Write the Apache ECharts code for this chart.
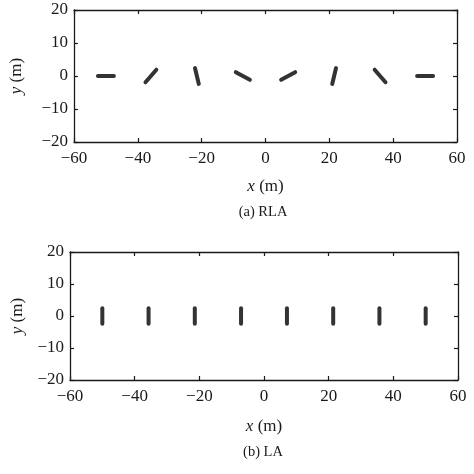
<!DOCTYPE html>
<html>
<head>
<meta charset="utf-8">
<script src="https://cdn.jsdelivr.net/npm/echarts@6/dist/echarts.min.js"></script>
<style>html,body{margin:0;padding:0;background:#fff}#c{width:474px;height:474px}</style>
</head>
<body>
<div id="c"></div>
<script>
// Axis ticks
const xTicks = [-60, -40, -20, 0, 20, 40, 60];
const yTicks = [-20, -10, 0, 10, 20];

// (a) RLA: element segments (start and end points, metres)
const rlaStartX = [-52.5, -37.6, -22.1, -9.3, 4.9, 20.9, 34.2, 47.5];
const rlaStartY = [0, -1.9, 2.4, 1.15, -1.15, -2.4, 1.9, 0];
const rlaEndX   = [-47.5, -34.2, -20.9, -4.9, 9.3, 22.1, 37.6, 52.5];
const rlaEndY   = [0, 1.9, -2.4, -1.15, 1.15, 2.4, -1.9, 0];

// (b) LA: vertical element segments
const laX      = [-50, -35.7, -21.4, -7.1, 7.1, 21.4, 35.7, 50];
const laStartY = [-2.45, -2.45, -2.45, -2.45, -2.45, -2.45, -2.45, -2.45];
const laEndY   = [2.45, 2.45, 2.45, 2.45, 2.45, 2.45, 2.45, 2.45];

const FONT = 'Liberation Serif';
const INK = '#1a1a1a';
const MARK = '#333';

function fmt(v) { return v < 0 ? '\u2212' + Math.abs(v) : String(v); }

function xAxes(grid, gap) {
  const base = {
    gridIndex: grid, type: 'value', min: xTicks[0], max: xTicks[xTicks.length - 1],
    interval: xTicks[1] - xTicks[0],
    axisLine: { show: true, onZero: false, lineStyle: { color: INK, width: 1.3 } },
    axisTick: { show: true, inside: true, length: 4, lineStyle: { color: INK, width: 1.2 } },
    splitLine: { show: false }
  };
  return [
    Object.assign({}, base, {
      position: 'bottom',
      axisLabel: { margin: 8, fontSize: 17, fontFamily: FONT, color: INK, formatter: fmt },
      name: '{i|x} (m)', nameLocation: 'middle', nameGap: gap,
      nameTextStyle: { fontSize: 17, fontFamily: FONT, color: INK,
        rich: { i: { fontStyle: 'italic', fontSize: 17, fontFamily: FONT, color: INK } } }
    }),
    Object.assign({}, base, { position: 'top', axisLabel: { show: false } })
  ];
}
function yAxes(grid, gap) {
  const base = {
    gridIndex: grid, type: 'value', min: yTicks[0], max: yTicks[yTicks.length - 1],
    interval: yTicks[1] - yTicks[0],
    axisLine: { show: true, onZero: false, lineStyle: { color: INK, width: 1.3 } },
    axisTick: { show: true, inside: true, length: 4, lineStyle: { color: INK, width: 1.2 } },
    splitLine: { show: false }
  };
  return [
    Object.assign({}, base, {
      position: 'left',
      axisLabel: { margin: 6, fontSize: 17, fontFamily: FONT, color: INK, formatter: fmt },
      name: '{i|y} (m)', nameLocation: 'middle', nameGap: gap, nameRotate: 90,
      nameTextStyle: { fontSize: 17, fontFamily: FONT, color: INK,
        rich: { i: { fontStyle: 'italic', fontSize: 17, fontFamily: FONT, color: INK } } }
    }),
    Object.assign({}, base, { position: 'right', axisLabel: { show: false } })
  ];
}

const series = [];
for (let i = 0; i < rlaStartX.length; i++) {
  series.push({
    type: 'line', xAxisIndex: 0, yAxisIndex: 0, symbol: 'none', silent: true,
    data: [[rlaStartX[i], rlaStartY[i]], [rlaEndX[i], rlaEndY[i]]],
    lineStyle: { color: MARK, width: 4, cap: 'round' }
  });
}
for (let i = 0; i < laX.length; i++) {
  series.push({
    type: 'line', xAxisIndex: 2, yAxisIndex: 2, symbol: 'none', silent: true,
    data: [[laX[i], laStartY[i]], [laX[i], laEndY[i]]],
    lineStyle: { color: MARK, width: 4, cap: 'round' }
  });
}

const chart = echarts.init(document.getElementById('c'), null, { renderer: 'canvas' });
chart.setOption({
  animation: false,
  backgroundColor: '#fff',
  grid: [
    { left: 74, right: 17, top: 10, height: 132 },
    { left: 70, right: 16, top: 252, height: 128 }
  ],
  xAxis: xAxes(0, 36).concat(xAxes(1, 38)),
  yAxis: yAxes(0, 49).concat(yAxes(1, 44)),
  series: series,
  graphic: [
    { type: 'text', x: 263, y: 212, style: { text: '(a) RLA', fontSize: 14.5, fontFamily: FONT, fill: INK,
      textAlign: 'center', textVerticalAlign: 'middle' } },
    { type: 'text', x: 263, y: 452, style: { text: '(b) LA', fontSize: 14.5, fontFamily: FONT, fill: INK,
      textAlign: 'center', textVerticalAlign: 'middle' } }
  ]
});
</script>
</body>
</html>
